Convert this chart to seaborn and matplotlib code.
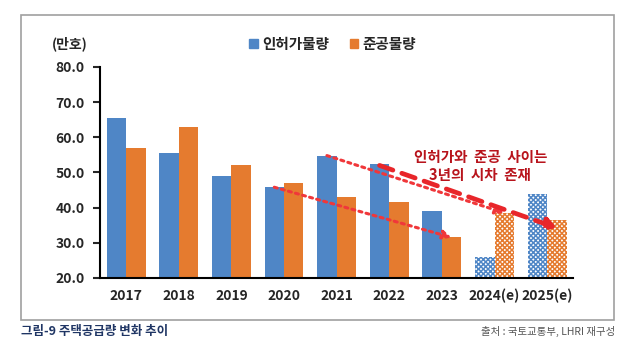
import matplotlib.pyplot as plt
import matplotlib.patches as mpatches
import pandas as pd
import seaborn as sns

# values (unit: 10,000 households)
years = ["2017", "2018", "2019", "2020", "2021", "2022", "2023", "2024(e)", "2025(e)"]
permits = [65.5, 55.5, 49.0, 45.8, 54.8, 52.3, 39.0, 26.0, 44.0]
completions = [57.0, 63.0, 52.0, 47.0, 43.0, 41.5, 31.5, 38.5, 36.5]
estimated = ["2024(e)", "2025(e)"]
series = ["인허가물량", "준공물량"]
colors = ["#4F86C6", "#E57B2F"]

df = pd.DataFrame({"year": years * 2,
                   "value": permits + completions,
                   "kind": [series[0]] * len(years) + [series[1]] * len(years)})

sns.set_style("white")
plt.rcParams['font.family'] = ['Noto Sans CJK KR', 'DejaVu Sans']
plt.rcParams['hatch.linewidth'] = 1.1

fig = plt.figure(figsize=(6.4, 3.6), dpi=100)
ax = fig.add_axes([0.156, 0.228, 0.740, 0.586])

sns.barplot(data=df, x="year", y="value", hue="kind", palette=colors,
            width=0.74, saturation=1, legend=False, linewidth=0, ax=ax)

# forecast bars drawn with a checker pattern
n = len(years)
for k, col in enumerate(colors):
    for i, y in enumerate(years):
        if y in estimated:
            p = ax.patches[k * n + i]
            p.set_facecolor("white")
            p.set_edgecolor(col)
            p.set_hatch("xxxxxxx")
            p.set_linewidth(0)

ax.set_ylim(20, 80)
ax.set_xlim(-0.5, n - 0.5)
ax.set_yticks(range(20, 81, 10))
ax.set_yticklabels([f"{v:.1f}" for v in range(20, 81, 10)], fontweight="bold", fontsize=10)
ax.set_xticks(range(n))
ax.set_xticklabels(years, fontweight="bold", fontsize=10)
ax.set_xticks([i + 0.5 for i in range(n)], minor=True)
ax.tick_params(axis="x", which="major", length=0, pad=8)
ax.tick_params(axis="x", which="minor", length=5, width=1.5, direction="out")
ax.tick_params(axis="y", length=5, width=1.5, direction="out", left=True, pad=6)
ax.set_xlabel("")
ax.set_ylabel("")
for s in ["top", "right"]:
    ax.spines[s].set_visible(False)
for s in ["left", "bottom"]:
    ax.spines[s].set_linewidth(1.5)
    ax.spines[s].set_color("black")

# lag arrows: permit top -> completion top three years later
off = 0.185
red = "#F0373A"
for start in [3, 4]:
    ax.annotate("", xy=(start + 3 + off, completions[start + 3]),
                xytext=(start - off, permits[start]),
                arrowprops=dict(arrowstyle="-|>,head_length=0.5,head_width=0.25",
                                color=red, lw=2.2, linestyle=(0, (1, 1.4)),
                                shrinkA=0, shrinkB=0))
ax.annotate("", xy=(8 + off, completions[8] - 2.3),
            xytext=(5 - off, permits[5] - 0.3),
            arrowprops=dict(arrowstyle="-|>,head_length=0.6,head_width=0.35",
                            color="#E8262A", lw=3.4, linestyle=(0, (3, 2)),
                            shrinkA=0, shrinkB=0))
ax.text(6.73, 51.8, "인허가와  준공  사이는\n3년의  시차  존재", ha="center", va="center",
        color="#B8141C", fontsize=10.5, fontweight="bold", linespacing=1.15)

# legend, unit label
handles = [mpatches.Patch(color=c, label=s) for c, s in zip(colors, series)]
fig.legend(handles=handles, loc="center", bbox_to_anchor=(0.52, 0.878), ncol=2,
           frameon=False, handlelength=0.6, handleheight=0.6, handletextpad=0.3,
           columnspacing=1.4, prop={"weight": "bold", "size": 10.5})
fig.text(0.081, 0.878, "(만호)", ha="left", va="center", fontsize=10, fontweight="bold")

# frame around the chart
fig.patches.append(mpatches.Rectangle((0.033, 0.111), 0.927, 0.847, transform=fig.transFigure,
                                      fill=False, edgecolor="#A0A0A0", lw=1.2))

# caption
fig.text(0.033, 0.078, "그림-9 주택공급량 변화 추이", ha="left", va="center",
         fontsize=9, fontweight="bold", color="#1F3564")
fig.text(0.962, 0.078, "출처 : 국토교통부, LHRI 재구성", ha="right", va="center",
         fontsize=7.5, color="#555555")

fig.savefig("out.png", dpi=100)
